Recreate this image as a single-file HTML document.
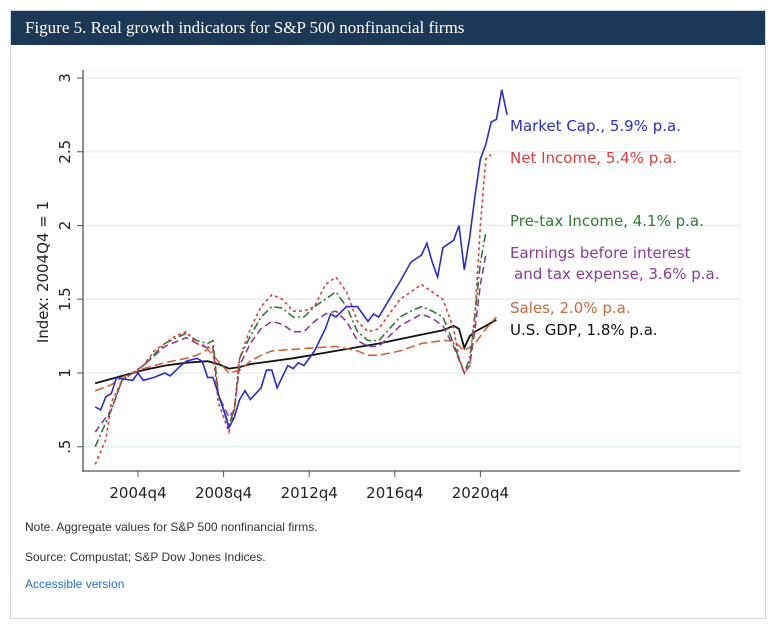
<!DOCTYPE html>
<html><head><meta charset="utf-8"><style>
body{margin:0;background:#fff;width:776px;height:636px;overflow:hidden;font-family:"Liberation Sans",Arial,sans-serif}
.box{position:absolute;left:10px;top:10px;width:754px;height:607px;border:1px solid #cfd6de}
.hdr{position:absolute;left:11px;top:11px;width:754px;height:34px;background:#1b3856;color:#fff;font-family:"Liberation Serif",serif;font-size:17px;line-height:34px;padding-left:14px;box-sizing:border-box}
.note{position:absolute;left:25px;font-size:12px;color:#333}
</style></head><body>
<div class="box"></div>
<div class="hdr">Figure 5. Real growth indicators for S&amp;P 500 nonfinancial firms</div>
<svg id="s" width="776" height="636" style="position:absolute;left:0;top:0" font-family="DejaVu Sans,sans-serif"></svg>
<div class="note" style="top:520px">Note. Aggregate values for S&amp;P 500 nonfinancial firms.</div>
<div class="note" style="top:550px">Source: Compustat; S&amp;P Dow Jones Indices.</div>
<div class="note" style="top:577px;color:#2a6ebb">Accessible version</div>
<script>
const X=t=>138+21.4*(t-2004.75), Y=v=>373-147.5*(v-1);
let h='';
for(const v of [0.5,1,1.5,2,2.5,3]) h+=`<line x1="84" x2="740" y1="${Y(v)}" y2="${Y(v)}" stroke="#e6eef2" stroke-width="1.5"/>`;
h+=`<rect x="84" y="70" width="656" height="401" fill="none" stroke="#f0f4f6"/>`;
h+=`<line x1="83" y1="70" x2="83" y2="472" stroke="#555" stroke-width="1.3"/><line x1="83" y1="471" x2="740" y2="471" stroke="#555" stroke-width="1.3"/>`;
const yl={0.5:'.5',1:'1',1.5:'1.5',2:'2',2.5:'2.5',3:'3'};
for(const v in yl){const y=Y(+v);h+=`<line x1="77" x2="83" y1="${y}" y2="${y}" stroke="#555"/><text transform="translate(70,${y}) rotate(-90)" text-anchor="middle" font-size="15" fill="#222">${yl[v]}</text>`;}
h+=`<text transform="translate(48,272) rotate(-90)" text-anchor="middle" font-size="15" fill="#222">Index: 2004Q4 = 1</text>`;
for(const t of [2004.75,2008.75,2012.75,2016.75,2020.75]){const x=X(t);h+=`<line x1="${x}" x2="${x}" y1="471" y2="477" stroke="#555"/><text x="${x}" y="498" text-anchor="middle" font-size="15" fill="#222">${Math.floor(t)}q4</text>`;}
function P(a,c,d,w){let p=[];for(let i=0;i<a.length;i+=2)p.push(X(a[i]).toFixed(1)+','+Y(a[i+1]).toFixed(1));h+=`<polyline points="${p.join(' ')}" fill="none" stroke="${c}" stroke-width="${w||1.6}" ${d?`stroke-dasharray="${d}"`:''}/>`;}
P([2002.75,0.93,2003.5,0.96,2004,0.98,2005,1.02,2006,1.05,2007,1.07,2008,1.08,2008.5,1.06,2009,1.03,2009.5,1.04,2010,1.06,2012,1.1,2014,1.15,2016,1.2,2018,1.26,2019,1.29,2019.5,1.32,2019.75,1.3,2020,1.17,2020.25,1.25,2020.5,1.28,2021,1.32,2021.5,1.36],'#111',null,1.8);
P([2002.75,0.88,2003.5,0.92,2004,0.97,2005,1.03,2006,1.07,2007,1.1,2007.5,1.12,2008,1.16,2008.5,1.08,2009,1.0,2009.5,1.02,2010,1.08,2010.5,1.12,2011,1.15,2012,1.16,2013,1.17,2014,1.18,2015,1.15,2015.5,1.12,2016,1.12,2017,1.15,2018,1.2,2019,1.22,2019.5,1.22,2020,1.15,2020.5,1.2,2021,1.3,2021.5,1.38],'#c8693a','9,4');
P([2002.75,0.6,2003.5,0.75,2004,0.95,2005,1.05,2006,1.18,2007,1.24,2007.5,1.2,2008,1.17,2008.25,1.18,2008.5,0.85,2009,0.7,2009.25,0.75,2009.5,1.05,2010,1.2,2010.5,1.3,2011,1.35,2011.5,1.33,2012,1.28,2012.5,1.28,2013,1.35,2013.5,1.4,2014,1.42,2014.5,1.35,2015,1.22,2015.5,1.18,2016,1.18,2016.5,1.25,2017,1.32,2017.5,1.36,2018,1.4,2018.5,1.37,2019,1.32,2019.5,1.18,2020,1.0,2020.25,1.05,2020.5,1.3,2020.75,1.6,2021,1.8],'#8b3a9b','7,4');
P([2002.75,0.5,2003.5,0.75,2004,0.95,2005,1.05,2006,1.2,2007,1.27,2007.5,1.22,2008,1.2,2008.25,1.22,2008.5,0.85,2009,0.65,2009.25,0.75,2009.5,1.1,2010,1.25,2010.5,1.38,2011,1.45,2011.5,1.44,2012,1.38,2012.5,1.38,2013,1.45,2013.5,1.5,2014,1.55,2014.5,1.45,2015,1.28,2015.5,1.22,2016,1.22,2016.5,1.3,2017,1.38,2017.5,1.42,2018,1.45,2018.5,1.42,2019,1.38,2019.5,1.2,2020,1.0,2020.25,1.1,2020.5,1.4,2020.75,1.75,2021,1.95],'#2f7a2f','8,3,2,3');
P([2002.75,0.38,2003.25,0.55,2003.5,0.8,2004,0.95,2004.5,1.0,2005,1.05,2005.5,1.15,2006,1.2,2006.5,1.25,2007,1.28,2007.5,1.2,2008,1.18,2008.25,1.15,2008.5,0.8,2008.75,0.7,2009,0.6,2009.25,0.75,2009.5,1.1,2010,1.3,2010.5,1.45,2011,1.53,2011.5,1.5,2012,1.42,2012.5,1.42,2013,1.45,2013.5,1.6,2014,1.65,2014.5,1.55,2015,1.35,2015.5,1.28,2016,1.3,2016.5,1.4,2017,1.5,2017.5,1.55,2018,1.6,2018.5,1.55,2019,1.5,2019.5,1.3,2019.75,1.1,2020,1.0,2020.25,1.05,2020.5,1.4,2020.75,2.0,2021,2.45,2021.25,2.48],'#e03c3c','3,3');
P([2002.75,0.77,2003,0.75,2003.25,0.84,2003.5,0.86,2003.75,0.97,2004,0.96,2004.5,0.95,2004.75,1.0,2005,0.95,2005.5,0.97,2006,1.0,2006.25,0.98,2006.75,1.05,2007,1.08,2007.5,1.1,2007.75,1.08,2008,0.97,2008.25,0.97,2008.75,0.75,2009,0.63,2009.25,0.7,2009.5,0.82,2009.75,0.88,2010,0.82,2010.5,0.9,2010.75,1.02,2011,1.02,2011.25,0.9,2011.75,1.05,2012,1.03,2012.25,1.07,2012.5,1.05,2013,1.15,2013.5,1.3,2013.75,1.4,2014,1.38,2014.5,1.45,2015,1.45,2015.5,1.35,2015.75,1.4,2016,1.38,2016.5,1.5,2017,1.62,2017.5,1.75,2018,1.8,2018.25,1.88,2018.5,1.75,2018.75,1.65,2019,1.85,2019.5,1.9,2019.75,2.0,2020,1.7,2020.25,1.92,2020.5,2.2,2020.75,2.45,2021,2.55,2021.25,2.7,2021.5,2.72,2021.75,2.92,2022,2.75],'#2b2bd0');
const L=[['Market Cap., 5.9% p.a.',510,131,'#2b2bd0'],['Net Income, 5.4% p.a.',510,163,'#e03c3c'],['Pre-tax Income, 4.1% p.a.',510,226,'#2f7a2f'],['Earnings before interest',510,258,'#8b3a9b'],['and tax expense, 3.6% p.a.',514,279,'#8b3a9b'],['Sales, 2.0% p.a.',510,313,'#c8693a'],['U.S. GDP, 1.8% p.a.',510,335,'#111']];
for(const [t,x,y,c] of L)h+=`<text x="${x}" y="${y}" font-size="15" fill="${c}">${t}</text>`;
document.getElementById('s').innerHTML=h;
</script>
</body></html>
